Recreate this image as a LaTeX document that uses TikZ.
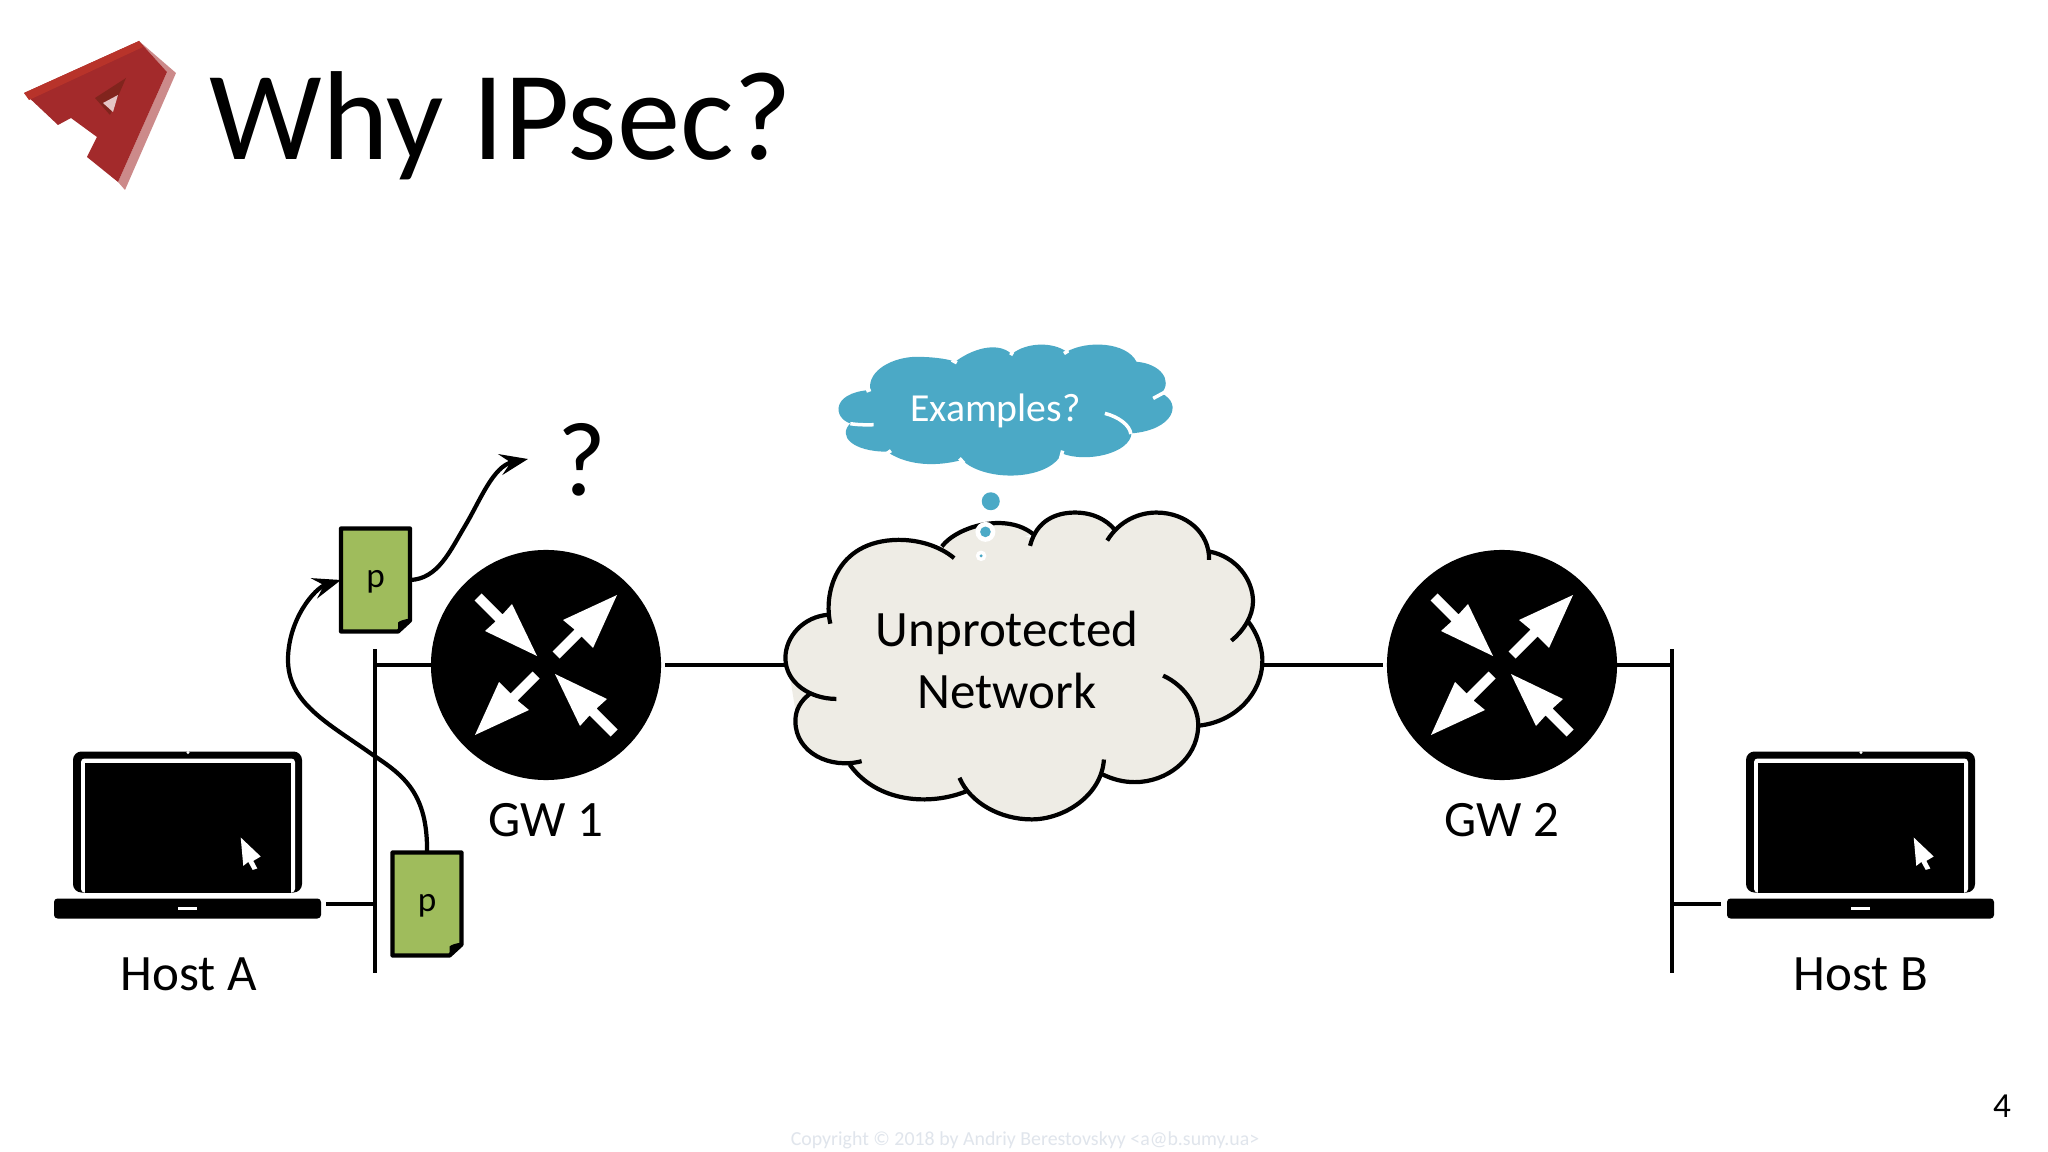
\documentclass[tikz,border=0pt]{standalone}
\usepackage{fontspec}
\setmainfont{Carlito}
\usetikzlibrary{arrows.meta,calc}
\definecolor{docgreen}{HTML}{9FBC5C}
\definecolor{cloudfill}{HTML}{EEECE5}
\definecolor{thoughtblue}{HTML}{4BA9C6}
\definecolor{logofront}{HTML}{A32A2B}
\definecolor{logotop}{HTML}{B8332A}
\definecolor{logoside}{HTML}{CC8A8A}
\definecolor{faintcopy}{HTML}{E0E5EC}
\tikzset{
  wire/.style={line width=1.2pt},
  router/.style={circle,fill=black,minimum size=2.30cm,inner sep=0pt,outer sep=0pt},
  label/.style={font=\fontsize{14.5}{17.6}\selectfont,inner sep=0pt,align=center},
  docbox/.style={minimum width=0.69cm,minimum height=1.03cm,inner sep=0pt,outer sep=0pt,font=\fontsize{10}{12}\selectfont},
  curvearrow/.style={line width=1.2pt,-{Stealth[length=8pt,width=6pt,inset=3pt]}},
  cloudline/.style={line width=1.2pt,line cap=butt},
  whitestub/.style={white,line width=1pt}
}
\newcommand{\routerarrows}[1]{%
  \begin{scope}[shift={(#1)}]
    \foreach \a in {0,180}{
      \begin{scope}[rotate=\a]
        \fill[white] (-9,-9) -- (-34,-61) -- (-43.5,-50.5) -- (-64.5,-71.5) -- (-71.5,-64.5) -- (-50.5,-43.5) -- (-61,-34) -- cycle;
        \fill[white] (71,-70) -- (17,-45) -- (28.5,-35.5) -- (6.5,-13.5) -- (13.5,-6.5) -- (35.5,-28.5) -- (47,-17) -- cycle;
      \end{scope}
    }
  \end{scope}}
\newcommand{\laptop}[1]{%
  \begin{scope}[xshift=#1*0.01cm,yshift=0.025cm]
    \fill[black,rounded corners=2.4pt] (73,895) -- (73,754) -- (302,754) -- (302,895) -- cycle;
    \fill[white,rounded corners=1pt] (81,895) -- (81,761) -- (295,761) -- (295,895) -- cycle;
    \fill[black] (85,765) rectangle (291,895);
    \fill[white] (188,755) circle[radius=1.6];
    \fill[black,rounded corners=1pt] (54,901) rectangle (321,921);
    \fill[white] (178,909) rectangle (197,912);
    \fill[white] (240.7,840) -- (260.7,859) -- (253.3,863.4) -- (257.3,871) -- (252.7,872.4) -- (248.3,864.4) -- (243.3,868.4) -- cycle;
  \end{scope}}
\newcommand{\docshape}[1]{%
  \draw[line width=1.2pt,fill=docgreen,line join=round]
    (#1.north west) -- (#1.north east) -- ($(#1.south east)+(0,-11)$) -- ($(#1.south east)+(-12,0)$) -- (#1.south west) -- cycle;
  \fill[black] ($(#1.south east)+(-12,0)$) -- ($(#1.south east)+(-12,-9)$) .. controls ($(#1.south east)+(-10,-11)$) and ($(#1.south east)+(-6,-12)$) .. ($(#1.south east)+(0,-13)$) -- ($(#1.south east)+(0,-11)$) -- cycle;}
\def\lA{(180,882) .. controls (160,800) and (190,632) .. (385,630) .. controls (450,630) and (510,650) .. (552,685)}
\def\lB{(515,650) .. controls (560,590) and (710,545) .. (792,615)}
\def\lC{(780,648) .. controls (800,570) and (860,548) .. (915,548) .. controls (970,548) and (1010,570) .. (1035,600)}
\def\lD{(1012,632) .. controls (1050,570) and (1110,548) .. (1160,548) .. controls (1250,548) and (1320,610) .. (1318,690)}
\def\lE{(1318,665) .. controls (1400,680) and (1450,750) .. (1450,815) .. controls (1450,860) and (1420,905) .. (1385,933)}
\def\lF{(1435,875) .. controls (1470,920) and (1480,970) .. (1478,1000) .. controls (1475,1090) and (1400,1175) .. (1290,1188)}
\def\lG{(1180,1038) .. controls (1250,1070) and (1290,1140) .. (1285,1195) .. controls (1280,1290) and (1190,1358) .. (1095,1358) .. controls (1060,1358) and (1030,1350) .. (998,1335)}
\def\lH{(1002,1290) .. controls (995,1400) and (880,1470) .. (785,1470) .. controls (690,1470) and (600,1420) .. (568,1345)}
\def\lI{(590,1385) .. controls (480,1430) and (320,1420) .. (238,1305)}
\def\lJ{(274,1295) .. controls (180,1320) and (75,1270) .. (75,1175) .. controls (75,1140) and (90,1115) .. (118,1093)}
\def\lK{(198,1108) .. controls (120,1108) and (45,1060) .. (45,985) .. controls (45,920) and (100,860) .. (175,855)}
\begin{document}
\begin{tikzpicture}[x=0.01cm,y=-0.01cm]
\useasboundingbox (0,0) rectangle (2048,1152);
\fill[white] (0,0) rectangle (2048,1152);

% logo
\fill[logoside] (139,41) -- (176,73) -- (125,190) -- (118,182) -- (167,72) -- cycle;
\fill[logofront] (24,93) -- (139,41) -- (167,72) -- (118,182) -- (87,157) -- (97,137) -- (71,118) -- (58,125) -- cycle;
\fill[logotop] (24,93) -- (139,41) -- (143,47) -- (29,100) -- cycle;
\fill[logotop!70!black] (126,78) -- (95,98) -- (110,115) -- cycle;
\fill[logoside!50!white] (118,95) -- (103,103) -- (113,112) -- cycle;

% title
\node[anchor=base west,inner sep=0pt,font=\fontsize{36}{42}\selectfont] (title) at (209,160) {Why IPsec?};

% thought cloud
\begin{scope}[shift={(7.7cm,-3.3cm)},x=0.0033333cm,y=-0.0033333cm]
  \fill[thoughtblue] (300,180) .. controls (290,120) and (370,80) .. (440,80) .. controls (480,80) and (530,85) .. (555,95)
    .. controls (600,60) and (680,30) .. (725,72) .. controls (770,35) and (850,35) .. (890,65)
    .. controls (950,30) and (1070,35) .. (1100,95) .. controls (1170,100) and (1210,150) .. (1175,190)
    .. controls (1240,220) and (1210,300) .. (1085,310) .. controls (1080,370) and (950,400) .. (875,370)
    .. controls (840,450) and (650,460) .. (575,390) .. controls (480,415) and (400,400) .. (350,365)
    .. controls (250,365) and (200,320) .. (240,280) .. controls (190,265) and (180,190) .. (295,180) -- cycle;
  \draw[whitestub] (1005,250) .. controls (1045,260) and (1080,285) .. (1083,312);
  \draw[whitestub] (1150,205) -- (1187,185);
  \draw[whitestub] (240,281) .. controls (260,284) and (285,285) .. (310,284);
  \draw[whitestub] (288,183) -- (301,178);
  \draw[whitestub] (545,90) -- (560,98);
  \draw[whitestub] (722,75) -- (728,65);
  \draw[whitestub] (882,70) -- (895,62);
  \draw[whitestub] (872,385) -- (878,362);
  \draw[whitestub] (568,385) -- (582,400);
  \draw[whitestub] (348,372) -- (362,362);
  \node[font=\fontsize{11.3}{14}\selectfont,text=white,inner sep=0pt] (examples) at (676,244) {Examples?};

  % network cloud
  \fill[cloudfill] (180,882) -- (385,640) -- (515,650) -- (650,585) -- (785,625) -- (915,555) -- (1022,610) -- (1160,555) -- (1318,670) -- (1440,815) -- (1430,875) -- (1470,1000) -- (1285,1190) -- (1095,1350) -- (998,1330) -- (785,1460) -- (585,1380) -- (450,1410) -- (238,1300) -- (80,1175) -- (50,985) -- cycle;
  \fill[cloudfill] \lA -- cycle; \fill[cloudfill] \lB -- cycle; \fill[cloudfill] \lC -- cycle;
  \fill[cloudfill] \lD -- cycle; \fill[cloudfill] \lE -- cycle; \fill[cloudfill] \lF -- cycle;
  \fill[cloudfill] \lG -- cycle; \fill[cloudfill] \lH -- cycle; \fill[cloudfill] \lI -- cycle;
  \fill[cloudfill] \lJ -- cycle; \fill[cloudfill] \lK -- cycle;
  \draw[cloudline] \lA; \draw[cloudline] \lB; \draw[cloudline] \lC; \draw[cloudline] \lD;
  \draw[cloudline] \lE; \draw[cloudline] \lF; \draw[cloudline] \lG; \draw[cloudline] \lH;
  \draw[cloudline] \lI; \draw[cloudline] \lJ; \draw[cloudline] \lK;
  \coordinate (cloudL) at (45,1005);
  \coordinate (cloudR) at (1478,1005);
  % bubbles
  \fill[white] (646,606) circle[radius=30];
  \fill[white] (633,678) circle[radius=16];
  \fill[thoughtblue] (662,514) circle[radius=27];
  \fill[thoughtblue] (646,606) circle[radius=16];
  \fill[thoughtblue] (633,678) circle[radius=5];
\end{scope}
\node[label] (netlabel) at (1007,660) {Unprotected\\Network};

% routers
\node[router] (r1) at (546,665) {};
\node[router] (r2) at (1502,665) {};
\routerarrows{r1}
\routerarrows{r2}
\node[label] (gw1) at (546,820) {GW 1};
\node[label] (gw2) at (1502,820) {GW 2};

% buses and links
\coordinate (busAtop) at (375,649);
\coordinate (busAbot) at (375,973);
\coordinate (busBtop) at (1672,649);
\coordinate (busBbot) at (1672,973);
\coordinate (hostAend) at (326,904);
\coordinate (hostAbus) at (375,904);
\coordinate (hostBend) at (1721,904);
\coordinate (hostBbus) at (1672,904);
\draw[wire] (busAtop) -- (busAbot);
\draw[wire] (busBtop) -- (busBbot);
\draw[wire] (busAtop |- r1) -- (r1);
\draw[wire] (r2) -- (busBtop |- r2);
\draw[wire,shorten <=1.2pt] (r1.east) -- (r1.east -| cloudL);
\draw[wire,shorten >=1.2pt] (r2.west -| cloudR) -- (r2.west);
\draw[wire] (hostAend) -- (hostAbus);
\draw[wire] (hostBend) -- (hostBbus);

% laptops
\laptop{0}
\laptop{1673}
\node[label] (hosta) at (189,974) {Host A};
\node[label] (hostb) at (1861,974) {Host B};

% documents
\node[docbox] (p1) at (375.5,580) {};
\node[docbox] (p2) at (427,904) {};
\docshape{p1}
\docshape{p2}
\node[docbox] (p1text) at ($(p1)+(0,2)$) {p};
\node[docbox] (p2text) at ($(p2)+(0,2)$) {p};

% question
\node[inner sep=0pt,font=\fontsize{30}{36}\selectfont] (q) at (582,460) {?};
\coordinate (qtip) at (528,459);
\draw[curvearrow] (p2.north) .. controls (428,793) and (403,775) .. (373,755) .. controls (328,723) and (287,703) .. (288,658) .. controls (289,618) and (315,588) .. (p1.west);
\draw[curvearrow] (p1.east) .. controls (438,579) and (450,551) .. (465,526) .. controls (480,501) and (493,466) .. (qtip);

% footer
\node[inner sep=0pt,font=\fontsize{5.65}{7}\selectfont,text=faintcopy] (copy) at (1025,1140) {Copyright © 2018 by Andriy Berestovskyy <a@b.sumy.ua>};
\node[inner sep=0pt,font=\fontsize{10}{12}\selectfont] (pg) at (2002,1106) {4};
\end{tikzpicture}
\end{document}
